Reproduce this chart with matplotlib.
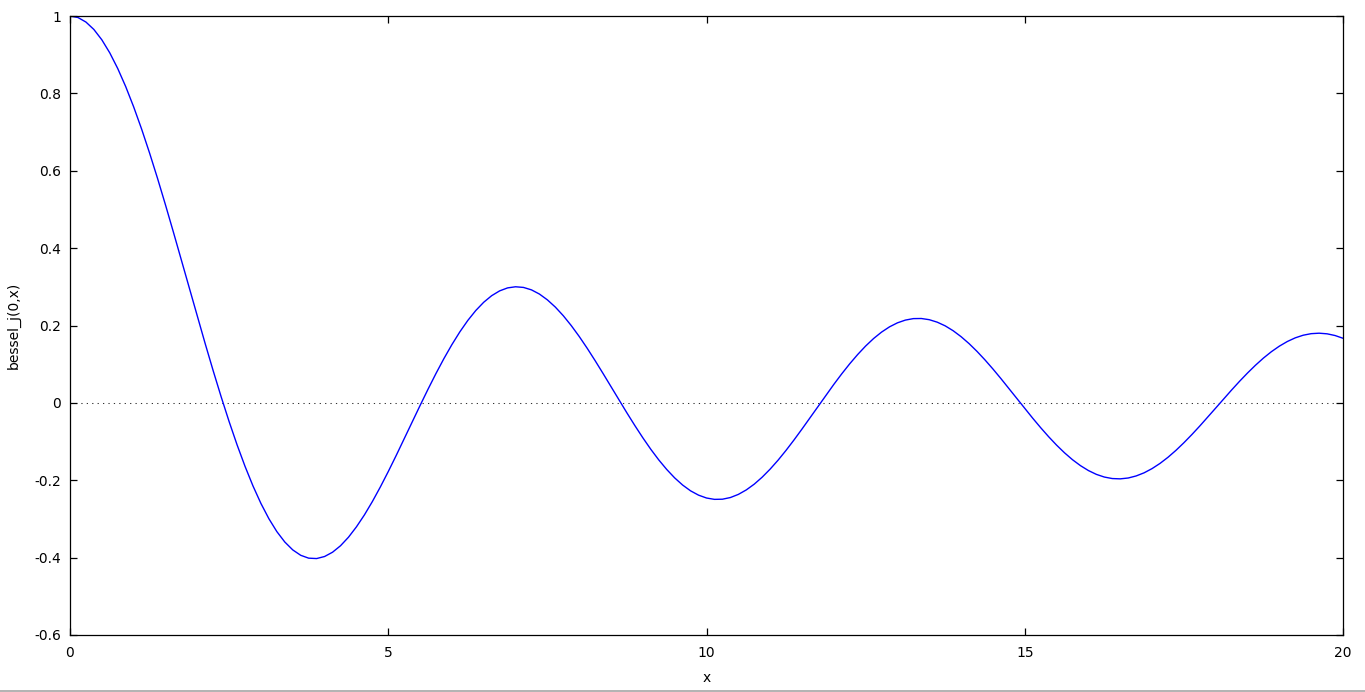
import matplotlib
matplotlib.use("Agg")
import matplotlib.pyplot as plt
from matplotlib.patches import Rectangle

# sample points, one row per unit of x (step 0.125)
x_vals = [0.0, 0.125, 0.25, 0.375, 0.5, 0.625, 0.75, 0.875,
          1.0, 1.125, 1.25, 1.375, 1.5, 1.625, 1.75, 1.875,
          2.0, 2.125, 2.25, 2.375, 2.5, 2.625, 2.75, 2.875,
          3.0, 3.125, 3.25, 3.375, 3.5, 3.625, 3.75, 3.875,
          4.0, 4.125, 4.25, 4.375, 4.5, 4.625, 4.75, 4.875,
          5.0, 5.125, 5.25, 5.375, 5.5, 5.625, 5.75, 5.875,
          6.0, 6.125, 6.25, 6.375, 6.5, 6.625, 6.75, 6.875,
          7.0, 7.125, 7.25, 7.375, 7.5, 7.625, 7.75, 7.875,
          8.0, 8.125, 8.25, 8.375, 8.5, 8.625, 8.75, 8.875,
          9.0, 9.125, 9.25, 9.375, 9.5, 9.625, 9.75, 9.875,
          10.0, 10.125, 10.25, 10.375, 10.5, 10.625, 10.75, 10.875,
          11.0, 11.125, 11.25, 11.375, 11.5, 11.625, 11.75, 11.875,
          12.0, 12.125, 12.25, 12.375, 12.5, 12.625, 12.75, 12.875,
          13.0, 13.125, 13.25, 13.375, 13.5, 13.625, 13.75, 13.875,
          14.0, 14.125, 14.25, 14.375, 14.5, 14.625, 14.75, 14.875,
          15.0, 15.125, 15.25, 15.375, 15.5, 15.625, 15.75, 15.875,
          16.0, 16.125, 16.25, 16.375, 16.5, 16.625, 16.75, 16.875,
          17.0, 17.125, 17.25, 17.375, 17.5, 17.625, 17.75, 17.875,
          18.0, 18.125, 18.25, 18.375, 18.5, 18.625, 18.75, 18.875,
          19.0, 19.125, 19.25, 19.375, 19.5, 19.625, 19.75, 19.875,
          20.0]
j0_vals = [1.0, 0.9961, 0.9844, 0.9652, 0.9385, 0.9047, 0.8642, 0.8176,
           0.7652, 0.7078, 0.6459, 0.5804, 0.5118, 0.4411, 0.3690, 0.2964,
           0.2239, 0.1525, 0.0828, 0.0156, -0.0484, -0.1085, -0.1641, -0.2148,
           -0.2601, -0.2995, -0.3328, -0.3597, -0.3801, -0.3940, -0.4014, -0.4024,
           -0.3971, -0.3860, -0.3693, -0.3473, -0.3205, -0.2897, -0.2552, -0.2176,
           -0.1776, -0.1359, -0.0931, -0.0498, -0.0068, 0.0353, 0.0760, 0.1146,
           0.1506, 0.1836, 0.2131, 0.2387, 0.2601, 0.2771, 0.2895, 0.2972,
           0.3001, 0.2984, 0.2921, 0.2813, 0.2663, 0.2476, 0.2253, 0.1998,
           0.1717, 0.1413, 0.1092, 0.0759, 0.0419, 0.0078, -0.0260, -0.0588,
           -0.0903, -0.1200, -0.1474, -0.1721, -0.1939, -0.2124, -0.2274, -0.2385,
           -0.2459, -0.2494, -0.2490, -0.2447, -0.2366, -0.2250, -0.2101, -0.1920,
           -0.1712, -0.1480, -0.1227, -0.0958, -0.0677, -0.0388, -0.0097, 0.0193,
           0.0477, 0.0751, 0.1010, 0.1250, 0.1469, 0.1663, 0.1829, 0.1965,
           0.2069, 0.2140, 0.2178, 0.2181, 0.2150, 0.2086, 0.1991, 0.1865,
           0.1711, 0.1532, 0.1331, 0.1111, 0.0876, 0.0629, 0.0374, 0.0116,
           -0.0142, -0.0396, -0.0641, -0.0874, -0.1092, -0.1291, -0.1469, -0.1622,
           -0.1749, -0.1848, -0.1917, -0.1956, -0.1964, -0.1942, -0.1889, -0.1808,
           -0.1699, -0.1565, -0.1407, -0.1228, -0.1031, -0.0820, -0.0598, -0.0368,
           -0.0134, 0.0101, 0.0333, 0.0558, 0.0772, 0.0973, 0.1158, 0.1323,
           0.1466, 0.1586, 0.1681, 0.1749, 0.1789, 0.1801, 0.1785, 0.1741,
           0.1670]

x_ticks = [0, 5, 10, 15, 20]
y_ticks = [-0.6, -0.4, -0.2, 0, 0.2, 0.4, 0.6, 0.8, 1]
y_ticklabels = ["-0.6", "-0.4", "-0.2", "0", "0.2", "0.4", "0.6", "0.8", "1"]

W, H = 1365, 692
fig = plt.figure(figsize=(W / 100, H / 100), dpi=100)
ax = fig.add_axes([70 / W, 1 - 635 / H, (1343 - 70) / W, (635 - 16) / H])

ax.axhline(0, color="#333333", lw=0.75, ls=(0, (1.2, 4)), zorder=1)
ax.plot(x_vals, j0_vals, color="#0000ff", lw=1.0, zorder=2)

ax.set_xlim(0, 20)
ax.set_ylim(-0.6, 1)
ax.set_xticks(x_ticks)
ax.set_xticklabels([str(t) for t in x_ticks])
ax.set_yticks(y_ticks)
ax.set_yticklabels(y_ticklabels)
ax.tick_params(direction="in", length=5, width=0.9, labelsize=10,
               top=True, right=True, pad=6.5, colors="black")
ax.tick_params(axis="x", pad=8)
for s in ax.spines.values():
    s.set_linewidth(0.9)

ax.set_xlabel("x", fontsize=10)
ax.set_ylabel("bessel_j(0,x)", fontsize=10)
ax.xaxis.set_label_coords(0.5, -0.058)
ax.yaxis.set_label_coords(-0.039, 0.5)

# thin grey strip at the very bottom of the image
fig.add_artist(Rectangle((0, 0), 1, 2 / H, transform=fig.transFigure,
                         color="#b4b4b4", lw=0))

fig.savefig("out.png", dpi=100)
